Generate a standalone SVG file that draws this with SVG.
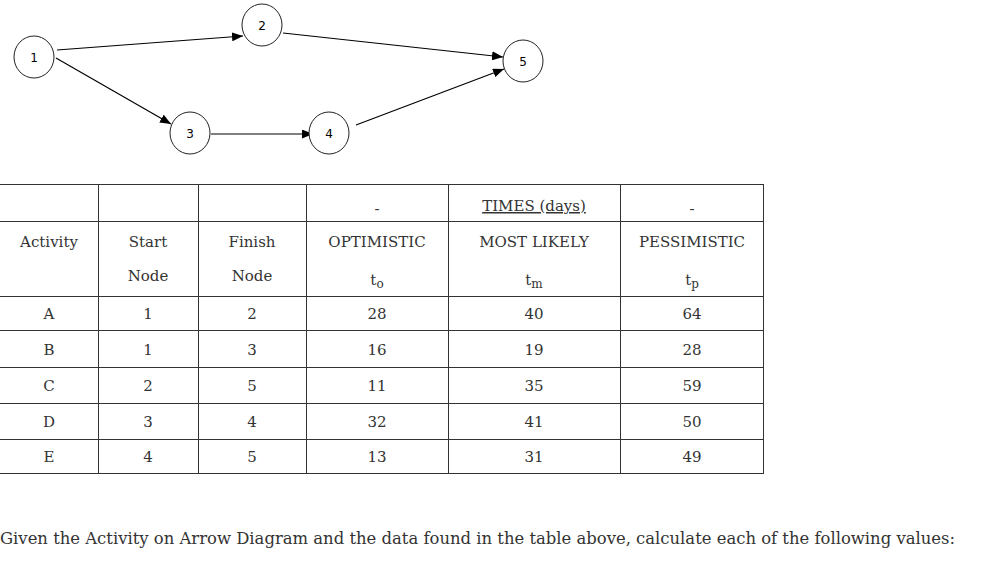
<svg xmlns="http://www.w3.org/2000/svg" width="1004" height="565" viewBox="0 0 1004 565">
<style>
.n{fill:#fff;stroke:#222;stroke-width:1}
.nt{font-family:"DejaVu Sans",sans-serif;font-size:12px;text-anchor:middle}
.c line{stroke:#000;stroke-width:1.2}
.t{font-family:"DejaVu Serif",serif;font-size:15px;fill:#333;text-anchor:middle}
.g line{stroke:#333;stroke-width:1}
</style>
<defs><marker id="a" markerWidth="11" markerHeight="9" refX="11" refY="4.5" orient="auto" markerUnits="userSpaceOnUse"><path d="M0,0 L11,4.5 L0,9z"/></marker></defs>
<rect width="1004" height="565" fill="#fff"/>
<g class="c">
<line x1="57" y1="50" x2="243" y2="36" marker-end="url(#a)"/>
<line x1="283" y1="33" x2="503" y2="57" marker-end="url(#a)"/>
<line x1="56" y1="58" x2="171" y2="124" marker-end="url(#a)"/>
<line x1="211" y1="134" x2="313" y2="134" marker-end="url(#a)"/>
<line x1="356" y1="125" x2="504" y2="69" marker-end="url(#a)"/>
</g>
<g id="n1"><ellipse class="n" cx="34" cy="57" rx="20" ry="21"/><text class="nt" x="34" y="62">1</text></g>
<g id="n2"><ellipse class="n" cx="262" cy="25" rx="20" ry="21"/><text class="nt" x="262" y="30">2</text></g>
<g id="n3"><ellipse class="n" cx="190" cy="133" rx="20" ry="21"/><text class="nt" x="190" y="138">3</text></g>
<g id="n4"><ellipse class="n" cx="329" cy="133" rx="20" ry="21"/><text class="nt" x="329" y="138">4</text></g>
<g id="n5"><ellipse class="n" cx="523" cy="61" rx="20" ry="21"/><text class="nt" x="523" y="66">5</text></g>
<g class="g">
<line x1="0" y1="184.5" x2="764" y2="184.5"/>
<line x1="0" y1="221.5" x2="764" y2="221.5"/>
<line x1="0" y1="296.5" x2="764" y2="296.5"/>
<line x1="0" y1="330.5" x2="764" y2="330.5"/>
<line x1="0" y1="367.5" x2="764" y2="367.5"/>
<line x1="0" y1="403.5" x2="764" y2="403.5"/>
<line x1="0" y1="439.5" x2="764" y2="439.5"/>
<line x1="0" y1="473.5" x2="764" y2="473.5"/>
<line x1="98.5" y1="184" x2="98.5" y2="474"/>
<line x1="198.5" y1="184" x2="198.5" y2="474"/>
<line x1="306.5" y1="184" x2="306.5" y2="474"/>
<line x1="448.5" y1="184" x2="448.5" y2="474"/>
<line x1="620.5" y1="184" x2="620.5" y2="474"/>
<line x1="763.5" y1="184" x2="763.5" y2="474"/>
</g>
<g class="t">
<text x="377" y="214">-</text>
<text x="534" y="211" text-decoration="underline">TIMES (days)</text>
<text x="692" y="214">-</text>
<text x="49" y="247">Activity</text>
<text x="148" y="247">Start</text>
<text x="148" y="281">Node</text>
<text x="252" y="247">Finish</text>
<text x="252" y="281">Node</text>
<text x="377" y="247">OPTIMISTIC</text>
<text x="534" y="247">MOST LIKELY</text>
<text x="692" y="247">PESSIMISTIC</text>
<text x="377" y="285">t<tspan font-size="12" dy="3">o</tspan></text>
<text x="534" y="285">t<tspan font-size="12" dy="3">m</tspan></text>
<text x="692" y="285">t<tspan font-size="12" dy="3">p</tspan></text>
<text x="49" y="319">A</text><text x="148" y="319">1</text><text x="252" y="319">2</text><text x="377" y="319">28</text><text x="534" y="319">40</text><text x="692" y="319">64</text>
<text x="49" y="355">B</text><text x="148" y="355">1</text><text x="252" y="355">3</text><text x="377" y="355">16</text><text x="534" y="355">19</text><text x="692" y="355">28</text>
<text x="49" y="391">C</text><text x="148" y="391">2</text><text x="252" y="391">5</text><text x="377" y="391">11</text><text x="534" y="391">35</text><text x="692" y="391">59</text>
<text x="49" y="427">D</text><text x="148" y="427">3</text><text x="252" y="427">4</text><text x="377" y="427">32</text><text x="534" y="427">41</text><text x="692" y="427">50</text>
<text x="49" y="462">E</text><text x="148" y="462">4</text><text x="252" y="462">5</text><text x="377" y="462">13</text><text x="534" y="462">31</text><text x="692" y="462">49</text>
</g>
<text x="0" y="544" font-family="DejaVu Serif,serif" font-size="16" fill="#333" textLength="955" lengthAdjust="spacingAndGlyphs">Given the Activity on Arrow Diagram and the data found in the table above, calculate each of the following values:</text>
</svg>
